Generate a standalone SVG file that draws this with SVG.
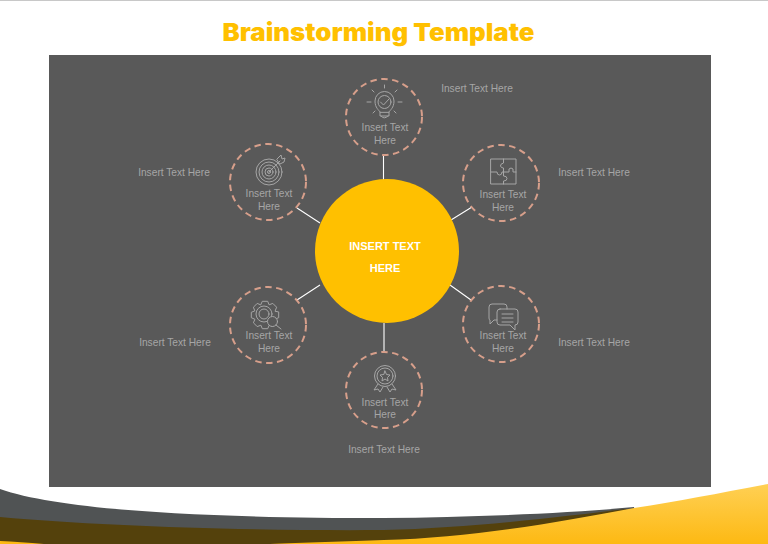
<svg xmlns="http://www.w3.org/2000/svg" width="768" height="544" viewBox="0 0 768 544">
<style>
text{font-family:"Liberation Sans",Arial,sans-serif;text-anchor:middle}
.t{font-size:10.2px;fill:#a6a6a6}
.ring{fill:none;stroke:#d79f8b;stroke-width:2;stroke-dasharray:6.5 4.5}
.ic{fill:none;stroke:#a6a6a6;stroke-width:1;stroke-linecap:round;stroke-linejoin:round}
.c{stroke:#fff;stroke-width:1.1;fill:none}
</style>
<defs><linearGradient id="y" x1="0" y1="0" x2="0" y2="1"><stop offset="0" stop-color="#ffd054"/><stop offset="1" stop-color="#fdb913"/></linearGradient></defs>
<rect width="768" height="544" fill="#fff"/>
<rect width="768" height="1" fill="#c8c8c8"/>
<text x="378.500" y="40.500" font-size="24.500" font-weight="900" textLength="312" lengthAdjust="spacingAndGlyphs" style="font-family:Inter,'Liberation Sans',sans-serif" fill="#ffc000">Brainstorming Template</text>
<rect x="49" y="55" width="662" height="432" fill="#595959"/>
<g id="swoosh">
<path d="M0 489C60 510 200 518 384 518C470 517 560 514 634 507L640 544H0Z" fill="#505354"/>
<path d="M0 517C100 526 250 531 384 530C470 528 560 517 626 509L640 544H0Z" fill="#54410c"/>
<path d="M768 484C720 493 680 501 634 508C560 522 470 538 384 540C350 541 300 543 270 544H768Z" fill="url(#y)"/>
<path d="M0 541Q20 542 44 544H0Z" fill="#fdb913"/>
</g>
<g id="connectors">
<path class="c" d="M383.500 155V181M297 208L320 223M472 207L451 220M297 300L320 285M471 300L450 285M384 323V352"/>
</g>
<g id="hub"><circle cx="387" cy="251" r="72" fill="#ffc000"/>
<text x="385" y="250" font-size="11" font-weight="700" fill="#fff">INSERT TEXT</text>
<text x="385" y="272" font-size="11" font-weight="700" fill="#fff">HERE</text></g>
<g id="node-top"><circle class="ring" cx="384" cy="117" r="38"/>
<g class="ic"><path d="M380 112C379 110 375 108 375 101A9.500 9.500 0 0 1 394 101C394 108 390 110 389 112ZM380 112V116H389V112M381 116Q384 120 388 116"/><path d="M380.500 102L383.500 105L389 99"/><circle cx="384.500" cy="102" r="6.500"/><path d="M371 102H367M398 102H402M374 92L372 90M395 92L397 90M384.500 88V85M375 111L373 113M394 111L396 113"/></g>
<text class="t" x="385" y="131">Insert Text</text><text class="t" x="385" y="144">Here</text></g>
<g id="node-upper-left"><circle class="ring" cx="268" cy="182" r="38"/>
<g class="ic"><circle cx="269" cy="172" r="13"/><circle cx="269" cy="172" r="10"/><circle cx="269" cy="172" r="7"/><circle cx="269" cy="172" r="4"/><circle cx="269" cy="172" r="1.500"/><path d="M269 172L280 161M277 159L281 155L282 159L285 158L284 162L280 164Z"/></g>
<text class="t" x="269" y="197">Insert Text</text><text class="t" x="269" y="210">Here</text></g>
<g id="node-upper-right"><circle class="ring" cx="501" cy="183" r="38"/>
<g class="ic"><rect x="491" y="159" width="25" height="25"/><path d="M503.500 159V163Q500 164 500.500 166Q501 168 503.500 168V176Q507 176 507 178.500Q507 181 503.500 181V184M491 172H497Q497 175 499.500 175Q502 175 502 172H509Q508 168 511 168Q514 168 513 172H516"/></g>
<text class="t" x="503" y="198">Insert Text</text><text class="t" x="503" y="211">Here</text></g>
<g id="node-lower-left"><circle class="ring" cx="268" cy="325" r="38"/>
<g class="ic"><path d="M278.700 312.300V317.700L275.200 319.100L276.600 322.800L272.800 326.600L269.300 325.100L267.700 328.700H262.300L260.900 325.200L257.200 326.600L253.400 322.800L254.900 319.300L251.300 317.700V312.300L254.800 310.900L253.400 307.200L257.200 303.400L260.700 304.900L262.300 301.300H267.700L269.100 304.800L272.800 303.400L276.600 307.200L275.200 310.900Z"/><circle cx="264" cy="314" r="8"/><circle cx="264" cy="314" r="5"/><circle cx="272.500" cy="321.500" r="5" fill="#595959"/><path d="M276 325L281 329"/></g>
<text class="t" x="269" y="339">Insert Text</text><text class="t" x="269" y="352">Here</text></g>
<g id="node-lower-right"><circle class="ring" cx="501" cy="324" r="38"/>
<g class="ic"><path d="M497 320H494L490 324V320Q489 320 489 318V307Q489 304 492 304H504Q507 304 507 307V309"/><path d="M500 309H515Q518 309 518 312V322Q518 325 515 325L515 330L510 325H500Q497 325 497 322V312Q497 309 500 309Z"/><path d="M502 314H513M502 318H513M502 322H513"/></g>
<text class="t" x="503" y="339">Insert Text</text><text class="t" x="503" y="352">Here</text></g>
<g id="node-bottom"><circle class="ring" cx="384" cy="390" r="38"/>
<g class="ic"><circle cx="385" cy="376" r="10.500"/><circle cx="385" cy="376" r="8"/><path d="M385 371L386.500 374.500L390 375L387.500 377.500L388 381L385 379L382 381L382.500 377.500L380 375L383.500 374.500Z"/><path d="M378 384L374 390L378 389L380 392L383 387M392 384L396 390L392 389L390 392L387 387"/></g>
<text class="t" x="385" y="406">Insert Text</text><text class="t" x="385" y="418">Here</text></g>
<g id="labels">
<text class="t" x="477" y="92">Insert Text Here</text>
<text class="t" x="174" y="176">Insert Text Here</text>
<text class="t" x="594" y="176">Insert Text Here</text>
<text class="t" x="175" y="346">Insert Text Here</text>
<text class="t" x="594" y="346">Insert Text Here</text>
<text class="t" x="384" y="453">Insert Text Here</text>
</g>
</svg>
